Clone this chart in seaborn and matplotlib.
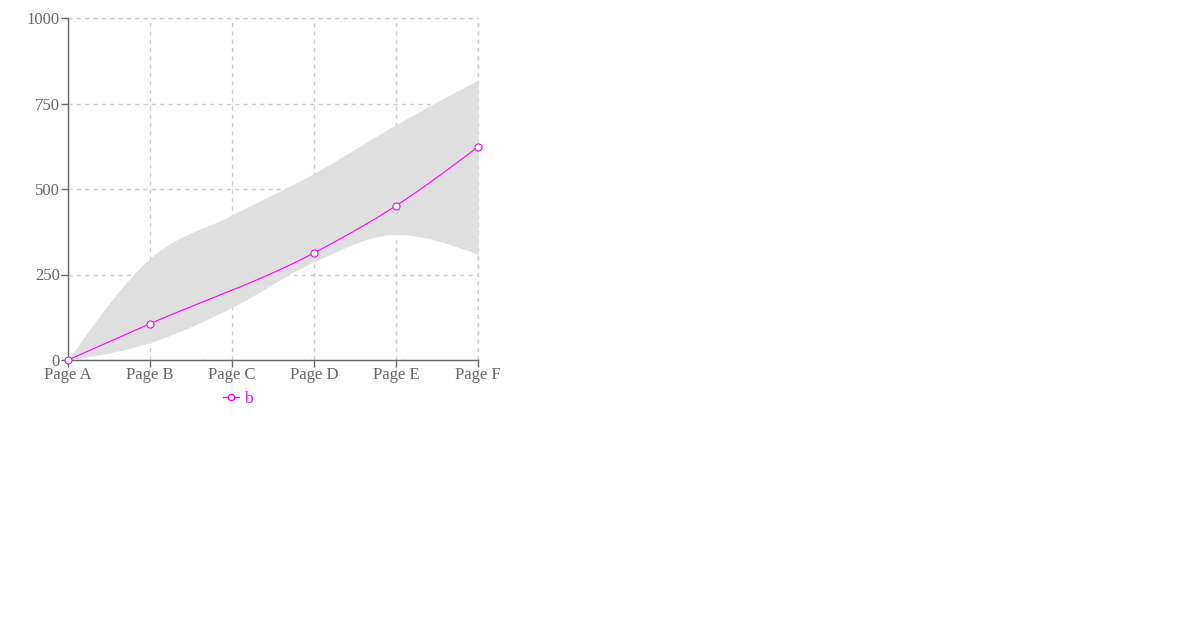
import numpy as np
import pandas as pd
import matplotlib
matplotlib.use("Agg")
import matplotlib.pyplot as plt
from matplotlib.lines import Line2D
import seaborn as sns

# --- data ---
pages = ["Page A", "Page B", "Page C", "Page D", "Page E", "Page F"]
b_values = [0, 106, None, 313, 451, 623]      # Page C has no value (line connects across it)
range_low = [0, 51, 154, 287, 367, 309]
range_high = [0, 297, 424, 546, 688, 819]

LINE_COLOR = "#ff00ff"
AREA_COLOR = "#dfdfdf"
AXIS_COLOR = "#666666"
GRID_COLOR = "#cccccc"


# d3 curveMonotoneX, sampled so matplotlib can draw it
def monotone_curve(xs, ys, n=40):
    xs = np.asarray(xs, float)
    ys = np.asarray(ys, float)
    h = np.diff(xs)
    s = np.diff(ys) / h
    t = np.zeros(len(xs))
    for i in range(1, len(xs) - 1):
        p = (s[i - 1] * h[i] + s[i] * h[i - 1]) / (h[i - 1] + h[i])
        t[i] = (np.sign(s[i - 1]) + np.sign(s[i])) * min(abs(s[i - 1]), abs(s[i]), 0.5 * abs(p))
    if len(xs) > 2:
        t[0] = (3 * s[0] - t[1]) / 2
        t[-1] = (3 * s[-1] - t[-2]) / 2
    else:
        t[0] = t[-1] = s[0]
    out_x, out_y = [], []
    for i in range(len(xs) - 1):
        u = np.linspace(0, 1, n, endpoint=(i == len(xs) - 2))
        h00 = 2 * u**3 - 3 * u**2 + 1
        h10 = u**3 - 2 * u**2 + u
        h01 = -2 * u**3 + 3 * u**2
        h11 = u**3 - u**2
        out_x.extend(xs[i] + u * h[i])
        out_y.extend(h00 * ys[i] + h10 * h[i] * t[i] + h01 * ys[i + 1] + h11 * h[i] * t[i + 1])
    return np.array(out_x), np.array(out_y)


sns.set_style("white")
plt.rcParams["font.family"] = ["Liberation Serif", "DejaVu Serif"]

fig = plt.figure(figsize=(12, 6.3), dpi=100)
ax = fig.add_axes([68 / 1200, 270 / 630, 410 / 1200, 342 / 630])

xpos = np.arange(len(pages))

# range area
ax_lo, lo = monotone_curve(xpos, range_low)
_, hi = monotone_curve(xpos, range_high)
ax.fill_between(ax_lo, lo, hi, color=AREA_COLOR, linewidth=0, zorder=1)

# line b (nulls skipped, connected)
df = pd.DataFrame({"x": xpos, "b": b_values}).dropna()
cx, cy = monotone_curve(df["x"], df["b"])
sns.lineplot(x=cx, y=cy, ax=ax, color=LINE_COLOR, linewidth=0.8, zorder=3, sort=False)
sns.scatterplot(x=df["x"], y=df["b"], ax=ax, marker="o", s=26, facecolor="white",
                edgecolor=LINE_COLOR, linewidth=0.8, zorder=6, clip_on=False)

ax.set_xlim(0, 5)
ax.set_ylim(0, 1000)
ax.set_xticks(xpos)
ax.set_xticklabels(pages)
ax.set_yticks([0, 250, 500, 750, 1000])
ax.set_xlabel("")
ax.set_ylabel("")

dash = (0, (3, 3))
ax.grid(True, color=GRID_COLOR, linestyle=dash, linewidth=1, zorder=0)
ax.set_axisbelow(True)
for side in ["top", "right"]:
    ax.spines[side].set_visible(False)
for side in ["left", "bottom"]:
    ax.spines[side].set_color(AXIS_COLOR)
    ax.spines[side].set_linewidth(1)
    ax.spines[side].set_zorder(5)
# dashed grid at top and right edges
ax.axhline(1000, color=GRID_COLOR, linestyle=dash, linewidth=1, zorder=0, clip_on=False)
ax.axvline(5, color=GRID_COLOR, linestyle=dash, linewidth=1, zorder=0, clip_on=False)

ax.tick_params(axis="both", direction="out", length=5, width=1, color=AXIS_COLOR,
               labelcolor=AXIS_COLOR, labelsize=12, left=True, bottom=True)
ax.tick_params(axis="x", pad=0)
ax.tick_params(axis="y", pad=1)

handle = Line2D([], [], color=LINE_COLOR, linewidth=1, marker="o", markersize=4.5,
                markerfacecolor="white", markeredgecolor=LINE_COLOR)
leg = fig.legend([handle], ["b"], loc="center", bbox_to_anchor=(238 / 1200, 1 - 399 / 630),
                 frameon=False, fontsize=12.5, handlelength=0.9, handletextpad=0.3,
                 labelcolor=LINE_COLOR)

fig.savefig("out.png", dpi=100)
